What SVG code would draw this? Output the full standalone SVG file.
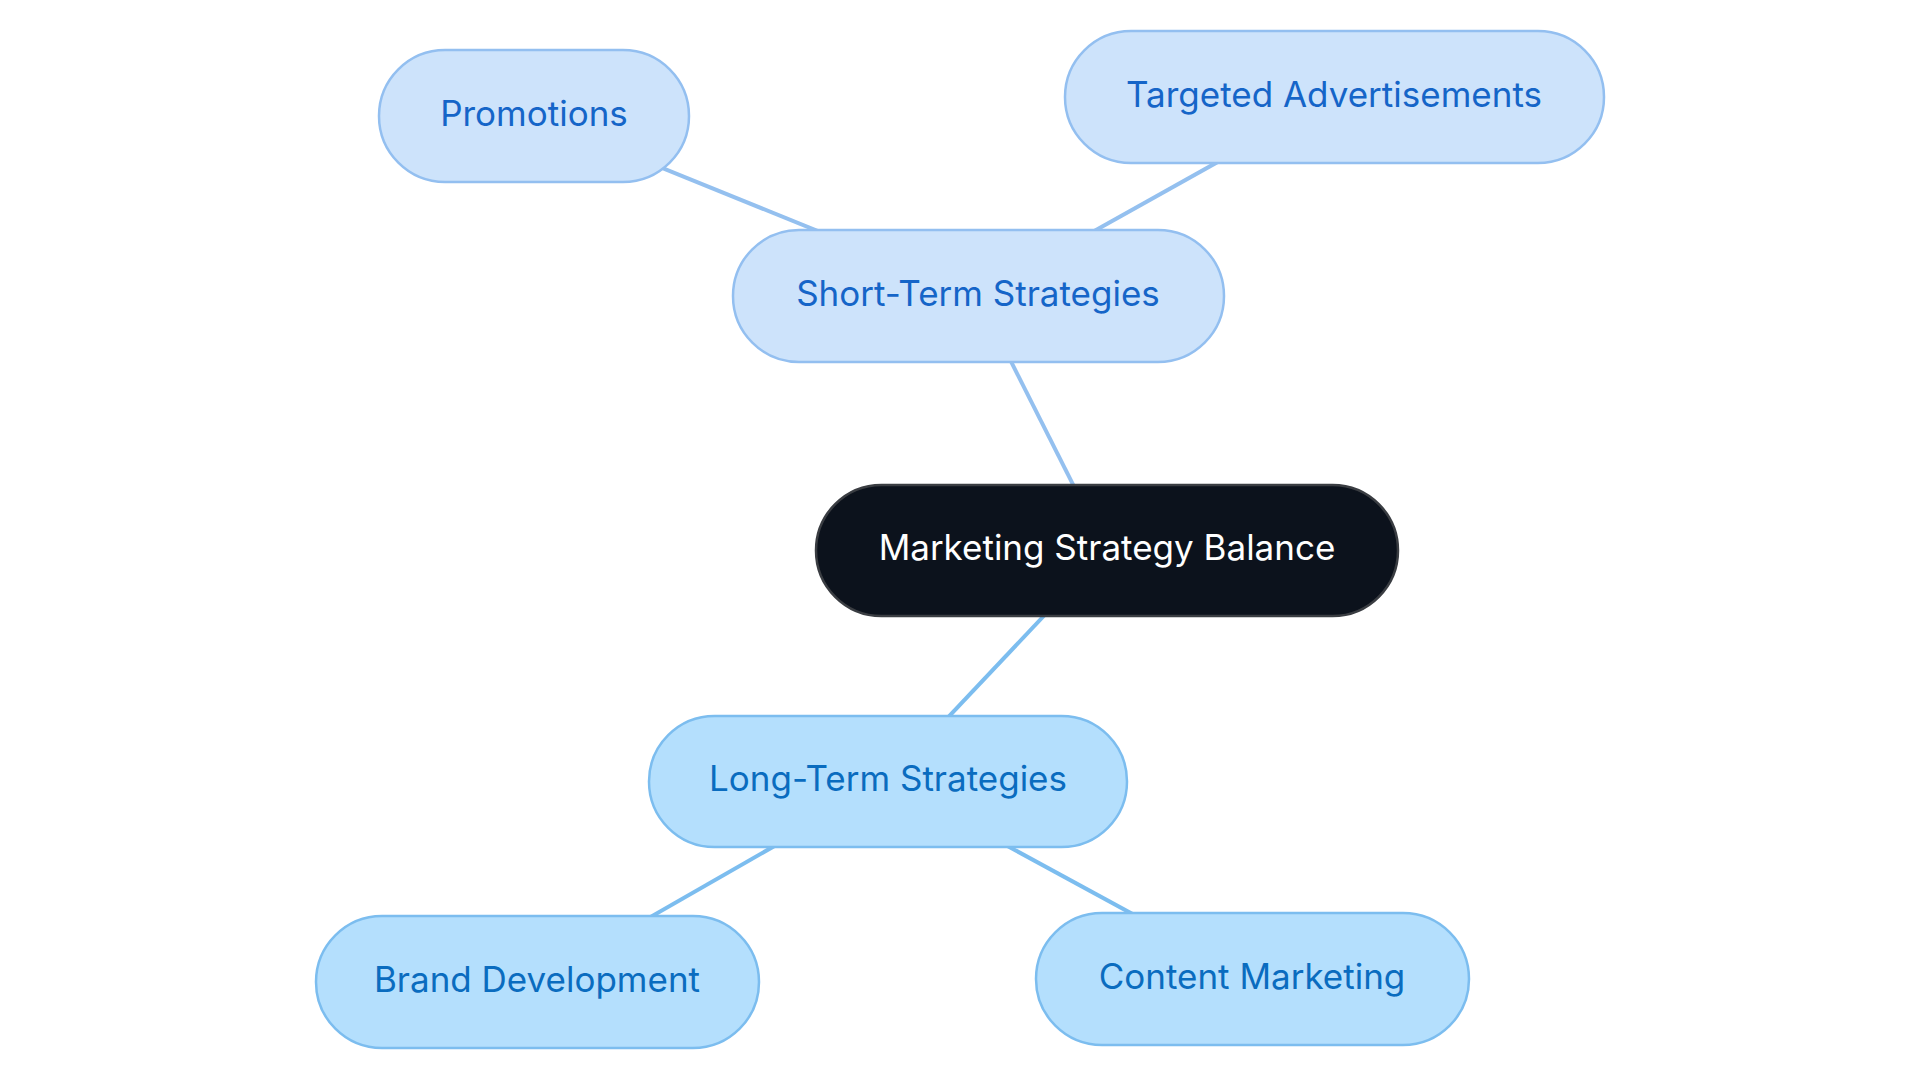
<svg xmlns="http://www.w3.org/2000/svg" width="1920" height="1083" viewBox="0 0 1920 1083">
<style>
.st rect{fill:#cde3fb;stroke:#93bff0;stroke-width:2.5}
.st text{fill:#1565c8}
.lt rect{fill:#b4dffd;stroke:#7cbdef;stroke-width:2.5}
.lt text{fill:#0a6cbf}
.root rect{fill:#0c121c;stroke:#3a3d42;stroke-width:2.5}
.root text{fill:#ffffff}
text{font-family:Inter,"Noto Sans",sans-serif;font-size:35px;text-anchor:middle;dominant-baseline:central}
.c1{stroke:#94c0ef;stroke-width:4;fill:none}
.c2{stroke:#7cbdef;stroke-width:4;fill:none}
</style>
<rect width="1920" height="1083" fill="#ffffff"/>
<g id="connectors">
<line class="c1" x1="534" y1="116" x2="978" y2="296"/>
<line class="c1" x1="1334" y1="97" x2="978" y2="296"/>
<line class="c1" x1="978" y1="296" x2="1106" y2="550"/>
<line class="c2" x1="1106" y1="550" x2="888" y2="781"/>
<line class="c2" x1="888" y1="781" x2="537" y2="982"/>
<line class="c2" x1="888" y1="781" x2="1252" y2="979"/>
</g>
<g id="promotions" class="st"><rect x="379" y="50" width="310" height="132" rx="66"/><text x="534" y="113">Promotions</text></g>
<g id="targeted-ads" class="st"><rect x="1065" y="31" width="539" height="132" rx="66"/><text x="1334" y="94">Targeted Advertisements</text></g>
<g id="short-term" class="st"><rect x="733" y="230" width="491" height="132" rx="66"/><text x="978" y="293">Short-Term Strategies</text></g>
<g id="root" class="root"><rect x="816" y="485" width="582" height="131" rx="65.5"/><text x="1107" y="547">Marketing Strategy Balance</text></g>
<g id="long-term" class="lt"><rect x="649" y="716" width="478" height="131" rx="65.5"/><text x="888" y="778">Long-Term Strategies</text></g>
<g id="brand-dev" class="lt"><rect x="316" y="916" width="443" height="132" rx="66"/><text x="537" y="979">Brand Development</text></g>
<g id="content-mkt" class="lt"><rect x="1036" y="913" width="433" height="132" rx="66"/><text x="1252" y="976">Content Marketing</text></g>
</svg>
